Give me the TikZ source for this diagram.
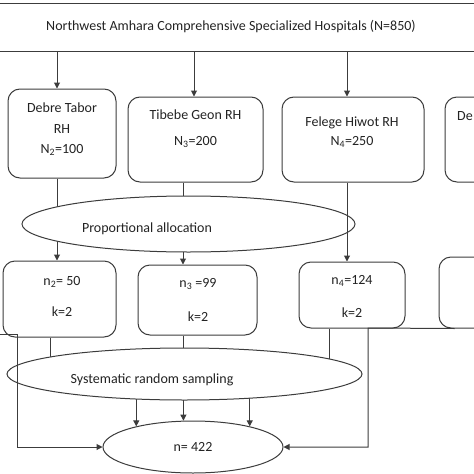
\documentclass[tikz,border=0pt]{standalone}
\usepackage{fontspec}
\setmainfont{Carlito}
\usepackage{tikz}
\usetikzlibrary{arrows.meta,positioning,calc,shapes.geometric,backgrounds}
\definecolor{inkgray}{RGB}{60,60,60}
\definecolor{textgray}{RGB}{35,35,35}

\begin{document}
\begin{tikzpicture}[x=1pt, y=-1pt,
  every node/.style={font=\fontsize{14}{17}\selectfont, text=textgray},
  hbox/.style={draw=inkgray, line width=1pt, rounded corners=12pt, fill=white},
  oval/.style={draw=inkgray, line width=1pt, ellipse, fill=white, inner sep=0pt},
  txt/.style={align=center, inner sep=0pt},
  arr/.style={draw=inkgray, line width=1pt, -{Triangle[length=6pt, width=6pt]}},
  ln/.style={draw=inkgray, line width=1pt}]
\useasboundingbox (0,0) rectangle (474,474);
\clip (0,0) rectangle (474,474);

% top level
\node[draw=inkgray, line width=1pt, minimum width=500pt, minimum height=48pt] (top) at (231,27) {Northwest Amhara Comprehensive Specialized Hospitals (N=850)};

% hospitals
\node[hbox, minimum width=108pt, minimum height=89pt] (db) at (62,133.5) {};
\node[hbox, minimum width=135pt, minimum height=85pt] (tg) at (195.5,139.5) {};
\node[hbox, minimum width=142pt, minimum height=85pt] (fh) at (353,139.5) {};
\node[hbox, minimum width=100pt, minimum height=85pt] (dm) at (495,139.5) {};
\node[txt, font=\fontsize{14}{20.5}\selectfont] (dbtxt) at (62,129.5) {Debre Tabor\\RH\\N\textsubscript{2}=100};
\node[txt, font=\fontsize{14}{26}\selectfont] (tgtxt) at (195.5,129) {Tibebe Geon RH\\N\textsubscript{3}=200};
\node[txt, font=\fontsize{14}{19}\selectfont] (fhtxt) at (352,132.5) {Felege Hiwot RH\\N\textsubscript{4}=250};
\node[txt, anchor=west] (dmtxt) at (457,116) {De};

% allocation
\node[oval, minimum width=333pt, minimum height=56pt] (pa) at (188.5,224) {};
\node[txt, anchor=base] (patxt) at (147,232) {Proportional allocation};

% sample per hospital
\node[hbox, minimum width=113pt, minimum height=76pt] (n2) at (59.5,299) {};
\node[hbox, minimum width=119pt, minimum height=70pt] (n3) at (197.5,300) {};
\node[hbox, minimum width=106pt, minimum height=66pt] (n4) at (352,295) {};
\node[hbox, minimum width=100pt, minimum height=71pt] (n5) at (489,292.5) {};
\node[txt, font=\fontsize{14}{31}\selectfont] (n2txt) at (62,296.5) {n\textsubscript{2}= 50\\k=2};
\node[txt, font=\fontsize{14}{34}\selectfont] (n3txt) at (198,300) {n\textsubscript{3} =99\\k=2};
\node[txt, font=\fontsize{14}{33}\selectfont] (n4txt) at (352,296.5) {n\textsubscript{4}=124\\k=2};

% sampling
\node[oval, minimum width=355pt, minimum height=52pt] (srs) at (184.5,374) {};
\node[txt, anchor=base] (srstxt) at (152,383) {Systematic random sampling};
\node[oval, minimum width=180pt, minimum height=52pt] (fin) at (193,447) {n= 422};

% columns and bends
\coordinate (c1) at (57,0);
\coordinate (c2) at (194,0);
\coordinate (c3) at (347,0);
\coordinate (d1) at (183,0);
\coordinate (e1) at (50,0);
\coordinate (e3) at (329,0);
\coordinate (ls) at (-5,334);
\coordinate (lb) at (17,334);
\coordinate (rb) at (368,328);

\draw[arr] (c1 |- top.south) -- (c1 |- db.north);
\draw[arr] (c2 |- top.south) -- (c2 |- tg.north);
\draw[arr] (c3 |- top.south) -- (c3 |- fh.north);
\draw[arr] (c3 |- fh.south) -- (c3 |- n4.north);
\draw[arr] (ls) -- (lb) |- (fin.west);
\draw[arr] ([xshift=16pt]n5.south west) -- (rb) |- (fin.east);

\begin{pgfonlayer}{background}
\draw[ln] (c1 |- db.south) -- (c1 |- pa.center);
\draw[arr] (c1 |- pa.center) -- (c1 |- n2.north);
\draw[ln] (d1 |- tg.south) -- (d1 |- pa.center);
\draw[arr] (d1 |- pa.center) -- (d1 |- n3.north);
\draw[ln] (e1 |- n2.south) -- (e1 |- srs.center);
\draw[ln] (d1 |- n3.south) -- (d1 |- srs.center);
\draw[ln] (e3 |- n4.south) -- (e3 |- srs.center);
\draw[arr] (fin.160 |- srs.center) -- (fin.160);
\draw[arr] (fin.110 |- srs.center) -- (fin.110);
\draw[arr] (fin.20 |- srs.center) -- (fin.20);
\end{pgfonlayer}
\end{tikzpicture}
\end{document}
